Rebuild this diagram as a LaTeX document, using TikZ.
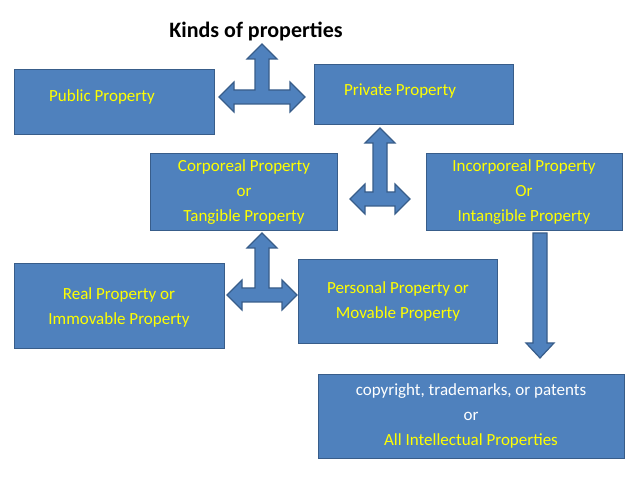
\documentclass[tikz,border=0pt]{standalone}
\usepackage{fontspec}
\setmainfont{Carlito}
\definecolor{boxfill}{HTML}{4F81BD}
\definecolor{boxline}{HTML}{385D8A}
\definecolor{ytext}{HTML}{FFFF00}
\newcommand\lruarrow[4]{%
\begin{scope}[shift={(#1,#2)}]
\fill[boxfill,draw=boxline,line width=1.2pt] (-#3,0) -- (-#3+15,-15) -- (-#3+15,-7) -- (-7,-7) -- (-7,-#4+15) -- (-15,-#4+15) -- (0,-#4) -- (15,-#4+15) -- (7,-#4+15) -- (7,-7) -- (#3-15,-7) -- (#3-15,-15) -- (#3,0) -- (#3-15,15) -- (#3-15,7) -- (-#3+15,7) -- (-#3+15,15) -- cycle;
\end{scope}}
\begin{document}
\begin{tikzpicture}[x=1pt,y=-1pt,
  box/.style={draw=boxline,line width=1.2pt,fill=boxfill,inner sep=0pt,font=\fontsize{17}{25}\selectfont,align=center,text=ytext}]
\useasboundingbox (0,0) rectangle (638,478);
\node[font=\bfseries\fontsize{22}{26}\selectfont] (title) at (256,31) {Kinds of properties};
\node[box,minimum width=200,minimum height=65,anchor=north west] (pub) at (14,69) {};
\node[text=ytext,font=\fontsize{17}{25}\selectfont] (pubt) at (102,97) {Public Property};
\node[box,minimum width=199,minimum height=60,anchor=north west] (priv) at (314,64) {};
\node[text=ytext,font=\fontsize{17}{25}\selectfont] (privt) at (400,91) {Private Property};
\node[box,minimum width=187,minimum height=77,anchor=north west] (corp) at (150,153) {};
\node[box,draw=none,fill=none] (corpt) at (244,192) {Corporeal Property\\or\\Tangible Property};
\node[box,minimum width=196,minimum height=77,anchor=north west] (incorp) at (426,153) {};
\node[box,draw=none,fill=none] (incorpt) at (524,192) {Incorporeal Property\\Or\\ Intangible Property};
\node[box,minimum width=210,minimum height=85,anchor=north west] (real) at (14,263) {};
\node[box,draw=none,fill=none] (realt) at (119,307) {Real Property or\\Immovable Property};
\node[box,minimum width=199,minimum height=84,anchor=north west] (pers) at (298,259) {};
\node[box,draw=none,fill=none] (perst) at (398,301) {Personal Property or\\Movable Property};
\node[box,minimum width=306,minimum height=84,anchor=north west] (copy) at (318,374) {};
\node[box,draw=none,fill=none,text=white] (copyt) at (471,416) {copyright, trademarks, or patents\\or\\\textcolor{ytext}{All Intellectual Properties}};
\lruarrow{262}{97}{43}{53}
\lruarrow{380}{199}{30}{71}
\lruarrow{262}{295}{35}{62}
\coordinate (dtop) at (540,233);
\coordinate (dbot) at (540,358);
\fill[boxfill,draw=boxline,line width=1.2pt] (533,233) -- (547,233) -- (547,343) -- (554,343) -- (540,358) -- (526,343) -- (533,343) -- cycle;
\end{tikzpicture}
\end{document}
